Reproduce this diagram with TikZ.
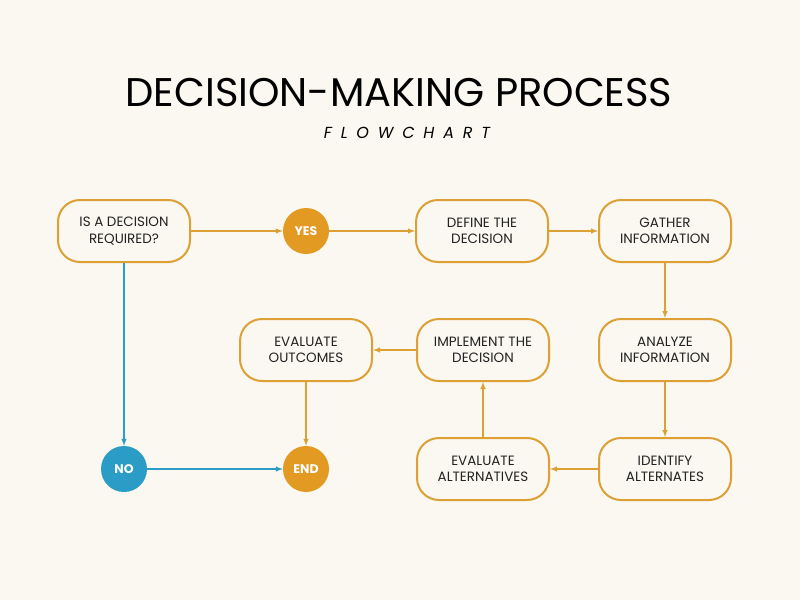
\documentclass[tikz,border=0pt]{standalone}
\usepackage{fontspec}
\setmainfont{Poppins}
\usetikzlibrary{arrows,positioning}

\definecolor{paper}{HTML}{FAF8F1}
\definecolor{amber}{HTML}{E39A22}
\definecolor{amberline}{HTML}{DDA035}
\definecolor{sky}{HTML}{2A9CC6}
\definecolor{ink}{HTML}{222222}

\tikzset{
  stage/.style={draw=amberline,line width=2pt,rounded corners=22pt,fill=paper,
    minimum width=132pt,minimum height=62pt,align=center,text=ink,
    font=\fontsize{13.5}{16.5}\selectfont},
  token/.style={circle,minimum size=46pt,inner sep=0pt,text=white,
    font=\fontsize{12.5}{14}\selectfont\bfseries},
  flow/.style={->,draw=amberline,line width=1.4pt},
  skip/.style={->,draw=sky,line width=1.4pt}
}

\begin{document}
\begin{tikzpicture}[x=1pt,y=-1pt,>=latex,on grid,node distance=119pt]
  \fill[paper] (0,0) rectangle (800,600);
  \useasboundingbox (0,0) rectangle (800,600);
  \node[text=black,font=\fontsize{40}{44}\selectfont] (title) at (399,93) {DECISION-MAKING PROCESS};
  \node[text=black,font=\fontsize{16}{18}\selectfont\itshape\addfontfeature{LetterSpace=55}] (sub) at (407,133) {FLOWCHART};

  \node[stage] (ask) at (124,231) {IS A DECISION\\REQUIRED?};
  \node[token,fill=amber] (yes) [right=182pt of ask] {YES};
  \node[stage] (define) [right=176pt of yes] {DEFINE THE\\DECISION};
  \node[stage] (gather) [right=183pt of define] {GATHER\\INFORMATION};
  \node[stage] (analyze) [below=of gather] {ANALYZE\\INFORMATION};
  \node[stage] (identify) [below=of analyze] {IDENTIFY\\ALTERNATES};
  \node[stage] (weigh) [left=182pt of identify] {EVALUATE\\ALTERNATIVES};
  \node[stage] (implement) [above=of weigh] {IMPLEMENT THE\\DECISION};
  \node[stage] (review) [left=177pt of implement] {EVALUATE\\OUTCOMES};
  \node[token,fill=amber] (end) [below=of review] {END};
  \node[token,fill=sky] (no) [below=238pt of ask] {NO};

  \path[flow] (ask) -- (yes);
  \path[flow] (yes) -- (define);
  \path[flow] (define) -- (gather);
  \path[flow] (gather) -- (analyze);
  \path[flow] (analyze) -- (identify);
  \path[flow] (identify) -- (weigh);
  \path[flow] (weigh) -- (implement);
  \path[flow] (implement) -- (review);
  \path[flow] (review) -- (end);
  \path[skip] (ask) -- (no);
  \path[skip] (no) -- (end);
\end{tikzpicture}
\end{document}
